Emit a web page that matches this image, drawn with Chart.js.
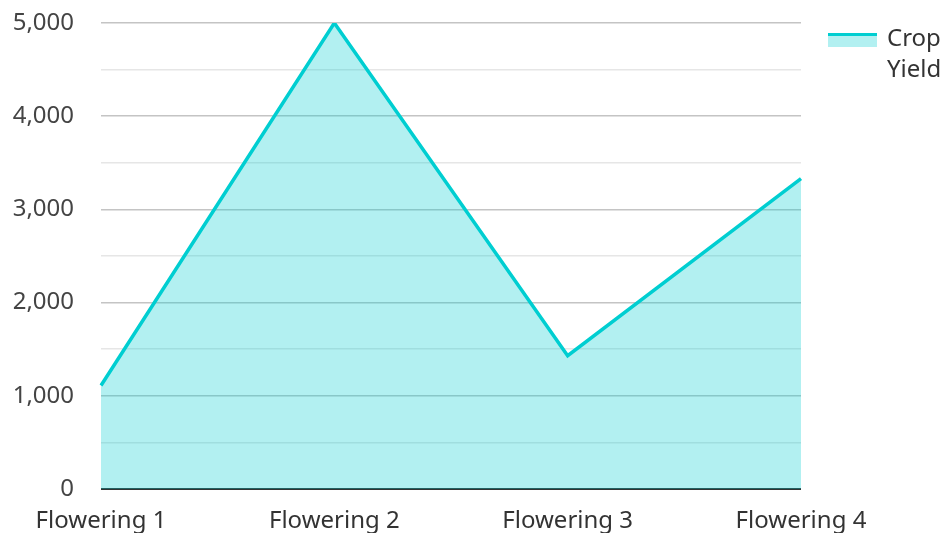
<!DOCTYPE html>
<html>
<head>
<meta charset="utf-8">
<script src="https://cdn.jsdelivr.net/npm/chart.js@4"></script>
<style>
  html, body { margin: 0; padding: 0; background: #fff; }
  #wrap { position: relative; width: 944px; height: 533px; }
  #legend { position: absolute; left: 828px; top: 21px; font-family: "Noto Sans", sans-serif; font-size: 24px; line-height: 31px; color: #333; }
  #legend .box { position: absolute; left: 0; top: 12px; width: 49px; height: 11px; border-top: 3px solid #00CED1; background: rgba(0, 206, 209, 0.3); }
  #legend .txt { margin-left: 59px; }
</style>
</head>
<body>
<div id="wrap">
  <canvas id="yieldChart" width="944" height="533"></canvas>
  <div id="legend"><div class="box"></div><div class="txt">Crop<br>Yield</div></div>
</div>
<script>
// 資料
const categories = ['Flowering 1', 'Flowering 2', 'Flowering 3', 'Flowering 4'];
const cropYield = [1110, 5000, 1430, 3330];
const seriesName = 'Crop Yield';

const ctx = document.getElementById('yieldChart');
new Chart(ctx, {
  type: 'line',
  data: {
    labels: categories,
    datasets: [{
      label: seriesName,
      data: cropYield,
      borderColor: '#00CED1',
      backgroundColor: 'rgba(0, 206, 209, 0.3)',
      borderWidth: 3.5,
      fill: 'origin',
      tension: 0,
      pointRadius: 0
    }]
  },
  options: {
    responsive: false,
    animation: false,
    layout: { padding: { left: 0, right: 143, top: 23, bottom: 0 } },
    plugins: {
      legend: { display: false },
      tooltip: { enabled: false }
    },
    scales: {
      x: {
        offset: false,
        grid: { display: false },
        border: { display: false },
        ticks: { color: '#333', font: { family: 'Noto Sans', size: 24 }, padding: 10, maxRotation: 0 },
        afterFit: (scale) => { scale.height = 44; scale.paddingLeft = 0; scale.paddingRight = 0; }
      },
      y: {
        min: 0,
        max: 5000,
        border: { display: false },
        grid: {
          drawTicks: false,
          color: (c) => c.tick.value === 0 ? '#333' : (c.tick.value % 1000 === 0 ? '#c4c4c4' : '#e6e6e6'),
          lineWidth: (c) => c.tick.value === 0 ? 2 : 1.5
        },
        ticks: {
          stepSize: 500,
          color: '#444',
          padding: 27,
          font: { family: 'Noto Sans', size: 24 },
          callback: (v) => v % 1000 === 0 ? v.toLocaleString('en-US') : ''
        },
        afterFit: (scale) => { scale.width = 101; scale.paddingTop = 0; scale.paddingBottom = 0; }
      }
    }
  }
});
</script>
</body>
</html>
